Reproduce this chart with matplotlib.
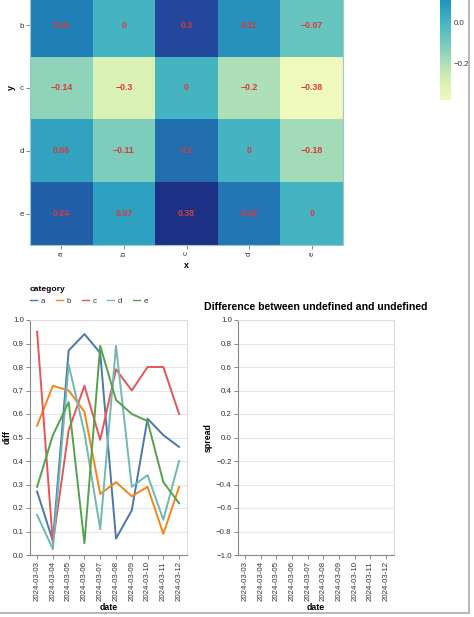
import matplotlib.pyplot as plt
import numpy as np
from matplotlib.colors import Normalize, LinearSegmentedColormap
from matplotlib.lines import Line2D

plt.rcParams['font.family'] = ['Liberation Sans', 'DejaVu Sans']

# Data:

cats = ['a', 'b', 'c', 'd', 'e']
heat = np.array([
    [0.00, -0.16, 0.14, -0.06, -0.24],
    [0.16, 0.00, 0.30, 0.11, -0.07],
    [-0.14, -0.30, 0.00, -0.20, -0.38],
    [0.06, -0.11, 0.20, 0.00, -0.18],
    [0.24, 0.07, 0.38, 0.18, 0.00],
])

dates = ['2024-03-03', '2024-03-04', '2024-03-05', '2024-03-06', '2024-03-07',
         '2024-03-08', '2024-03-09', '2024-03-10', '2024-03-11', '2024-03-12']
diff_a = [0.27, 0.06, 0.87, 0.94, 0.86, 0.07, 0.19, 0.58, 0.51, 0.46]
diff_b = [0.55, 0.72, 0.70, 0.61, 0.26, 0.31, 0.25, 0.29, 0.09, 0.29]
diff_c = [0.95, 0.05, 0.53, 0.72, 0.49, 0.79, 0.70, 0.80, 0.80, 0.60]
diff_d = [0.17, 0.025, 0.81, 0.52, 0.11, 0.89, 0.29, 0.34, 0.15, 0.40]
diff_e = [0.29, 0.51, 0.65, 0.05, 0.89, 0.66, 0.60, 0.57, 0.31, 0.22]
series = [diff_a, diff_b, diff_c, diff_d, diff_e]
colors = ['#4c78a8', '#f58518', '#e45756', '#72b7b2', '#54a24b']

# vega "yellowgreenblue" scheme
ygb = ['#eff9bd', '#dbf1b4', '#bde5b5', '#94d5b9', '#69c5be', '#45b4c2',
       '#2c9ec0', '#2182b8', '#2163aa', '#23479c', '#1c3185']
cmap = LinearSegmentedColormap.from_list('ygb', ygb)

W, H = 474, 617


def box(x0, y0, x1, y1):
    # pixel box (top-left origin) -> figure fraction rect
    return [x0 / W, 1 - y1 / H, (x1 - x0) / W, (y1 - y0) / H]


def fmt(v):
    s = f'{v:.1f}' if abs(v) > 1e-9 else '0.0'
    return s.replace('-', '\u2212')


def style_axes(ax):
    for s in ['top', 'right']:
        ax.spines[s].set_color('#dddddd')
    for s in ['left', 'bottom']:
        ax.spines[s].set_color('#888888')
    for s in ax.spines.values():
        s.set_linewidth(0.8)
    ax.tick_params(colors='#888888', labelcolor='#333333', labelsize=5.7, length=3, width=0.7, pad=1.5)


fig = plt.figure(figsize=(W / 100, H / 100), dpi=100)

# Heatmap (top row runs past the top edge, as in the reference)
ax_h = fig.add_axes(box(30, -69, 343, 245))
norm = Normalize(-0.38, 0.38)
mesh = ax_h.pcolormesh(np.arange(6), np.arange(6), heat, cmap=cmap, norm=norm)
ax_h.set_xlim(0, 5)
ax_h.set_ylim(5, 0)
ax_h.set_xticks(np.arange(5) + 0.5)
ax_h.set_xticklabels(cats, rotation=90)
ax_h.set_yticks(np.arange(1, 5) + 0.5)
ax_h.set_yticklabels(cats[1:])
for i in range(1, 5):
    for j in range(5):
        ax_h.text(j + 0.5, i + 0.5, f'{heat[i, j]:g}'.replace('-', '\u2212'),
                  ha='center', va='center', color='#d93a3a', fontsize=6.3, fontweight='bold')
style_axes(ax_h)
for s in ax_h.spines.values():
    s.set_color('#9cc8cc')
ax_h.set_xlabel('x', fontsize=6.5, fontweight='bold')
ax_h.xaxis.set_label_coords(0.5, -0.052)
ax_h.set_ylabel('y', fontsize=6.5, fontweight='bold')
ax_h.yaxis.set_label_coords(-0.045, 0.5)

cax = fig.add_axes(box(440, -54.5, 451, 100))
cb = fig.colorbar(mesh, cax=cax)
cb.outline.set_visible(False)
cb.set_ticks([-0.2, 0.0])
cb.set_ticklabels(['\u22120.2', '0.0'])
cb.ax.tick_params(labelsize=5.7, labelcolor='#333333', length=0, pad=2)

# Line chart
ax_l = fig.add_axes(box(30, 320, 187, 555))
x = np.arange(len(dates))
for vals, c, name in zip(series, colors, cats):
    ax_l.plot(x, vals, color=c, lw=1.4, label=name)
ax_l.set_xlim(-0.45, 9.5)
ax_l.set_ylim(0, 1)
ax_l.set_yticks(np.arange(0, 1.01, 0.1))
ax_l.set_yticklabels([fmt(v) for v in np.arange(0, 1.01, 0.1)])
ax_l.set_xticks(x)
ax_l.set_xticklabels(dates, rotation=90)
ax_l.yaxis.grid(True, color='#e6e6e6', lw=0.8)
ax_l.set_axisbelow(True)
style_axes(ax_l)
ax_l.set_xlabel('date', fontsize=6.3, fontweight='bold')
ax_l.xaxis.set_label_coords(0.5, -0.205)
ax_l.set_ylabel('diff', fontsize=6.3, fontweight='bold')
ax_l.yaxis.set_label_coords(-0.12, 0.5)
leg = ax_l.legend(title='category', loc='lower left', bbox_to_anchor=(0.0, 1.064), ncol=5,
                  frameon=False, fontsize=5.7, title_fontsize=6.1, handlelength=0.9,
                  handletextpad=0.5, columnspacing=1.3, borderaxespad=0, borderpad=0)
leg.get_title().set_fontweight('bold')
leg._legend_box.align = 'left'
for line in leg.get_lines():
    line.set_linewidth(1.0)
for t in leg.get_texts():
    t.set_color('#333333')

# Empty spread chart
ax_r = fig.add_axes(box(238, 320, 394, 555))
ax_r.set_xlim(-0.45, 9.5)
ax_r.set_ylim(-1, 1)
yt = np.round(np.arange(-1, 1.01, 0.2), 1)
ax_r.set_yticks(yt)
ax_r.set_yticklabels([fmt(v) for v in yt])
ax_r.set_xticks(x)
ax_r.set_xticklabels(dates, rotation=90)
ax_r.yaxis.grid(True, color='#e6e6e6', lw=0.8)
ax_r.set_axisbelow(True)
style_axes(ax_r)
ax_r.set_xlabel('date', fontsize=6.3, fontweight='bold')
ax_r.xaxis.set_label_coords(0.5, -0.205)
ax_r.set_ylabel('spread', fontsize=6.3, fontweight='bold')
ax_r.yaxis.set_label_coords(-0.16, 0.5)
ax_r.set_title('Difference between undefined and undefined', fontsize=7.6, fontweight='bold', pad=7)

# container frame at right and bottom
fig.add_artist(Line2D([469 / W, 469 / W], [1 - 613 / H, 1], color='#aaaaaa', lw=1.2))
fig.add_artist(Line2D([0, 469 / W], [1 - 613 / H, 1 - 613 / H], color='#aaaaaa', lw=1.2))

plt.savefig('out.png', dpi=100)
